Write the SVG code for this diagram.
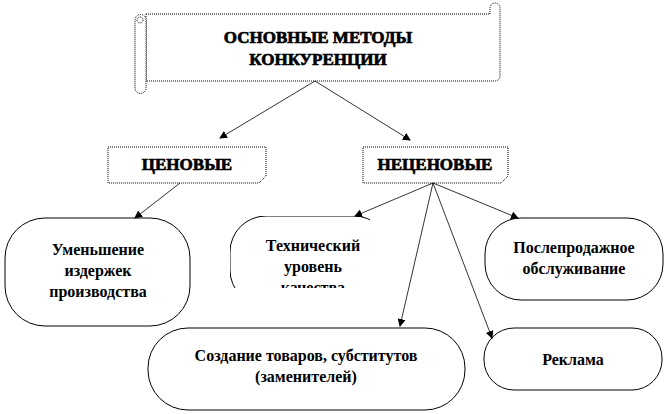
<svg xmlns="http://www.w3.org/2000/svg" width="666" height="414" viewBox="0 0 666 414">
<style>
.s{fill:#fff;stroke:#000;stroke-width:1}
.d{fill:#fff;stroke:#000;stroke-width:1;stroke-dasharray:1 1}
.t{font-family:"Liberation Serif","DejaVu Serif",serif;font-weight:bold;font-size:16px;text-anchor:middle;fill:#000}
.h{font-size:17px;stroke:#000;stroke-width:0.7}
.c{stroke:#000;stroke-width:0.8;fill:none;marker-end:url(#a)}
</style>
<defs>
<marker id="a" markerWidth="8" markerHeight="8" refX="7" refY="4" orient="auto" markerUnits="userSpaceOnUse"><path d="M0,0 L8,4 L0,8 z" fill="#000"/></marker>
<clipPath id="k"><rect x="230" y="216" width="140" height="72"/></clipPath>
</defs>
<g id="title">
<path class="d" d="M146,14 H490 V8 a5,5 0 0 1 10,0 V76 a5,5 0 0 1 -5,5 H146 Z"/>
<path class="d" d="M135,20 a5,5 0 0 1 11,0 V88 a5,5 0 0 1 -11,0 Z"/>
<circle class="d" cx="140" cy="20" r="3"/>
<text class="t h" x="318" y="43">ОСНОВНЫЕ МЕТОДЫ</text>
<text class="t h" x="318" y="65">КОНКУРЕНЦИИ</text>
</g>
<g id="price">
<path class="d" d="M108,147 H266 V176 L259,183 H108 Z"/>
<text class="t h" x="187" y="170">ЦЕНОВЫЕ</text>
</g>
<g id="nonprice">
<path class="d" d="M363,147 H508 V176 L501,183 H363 Z"/>
<text class="t h" x="435" y="170">НЕЦЕНОВЫЕ</text>
</g>
<g id="costs">
<rect class="s" x="5" y="218" width="185" height="108" rx="40"/>
<text class="t" x="98" y="255">Уменьшение</text>
<text class="t" x="98" y="276">издержек</text>
<text class="t" x="98" y="297">производства</text>
</g>
<g id="tech">
<rect class="s" x="230" y="216" width="160" height="90" rx="36" clip-path="url(#k)"/>
<text class="t" x="313" y="251">Технический</text>
<text class="t" x="313" y="272">уровень</text>
<text class="t" x="313" y="293" clip-path="url(#k)">качества</text>
</g>
<g id="service">
<rect class="s" x="485" y="218" width="178" height="82" rx="36"/>
<text class="t" x="574" y="253">Послепродажное</text>
<text class="t" x="574" y="274">обслуживание</text>
</g>
<g id="substitutes">
<rect class="s" x="148" y="328" width="317" height="82" rx="40"/>
<text class="t" x="306" y="361">Создание товаров, субститутов</text>
<text class="t" x="306" y="382">(заменителей)</text>
</g>
<g id="ads">
<rect class="s" x="484" y="328" width="178" height="62" rx="30"/>
<text class="t" x="573" y="365">Реклама</text>
</g>
<g id="connectors">
<line class="c" x1="315" y1="81" x2="220" y2="138"/>
<line class="c" x1="315" y1="81" x2="410" y2="140"/>
<line class="c" x1="180" y1="183" x2="135" y2="218"/>
<line class="c" x1="433" y1="183" x2="355" y2="216"/>
<line class="c" x1="433" y1="183" x2="518" y2="218"/>
<line class="c" x1="433" y1="183" x2="400" y2="326"/>
<line class="c" x1="433" y1="183" x2="492" y2="338"/>
</g>
</svg>
